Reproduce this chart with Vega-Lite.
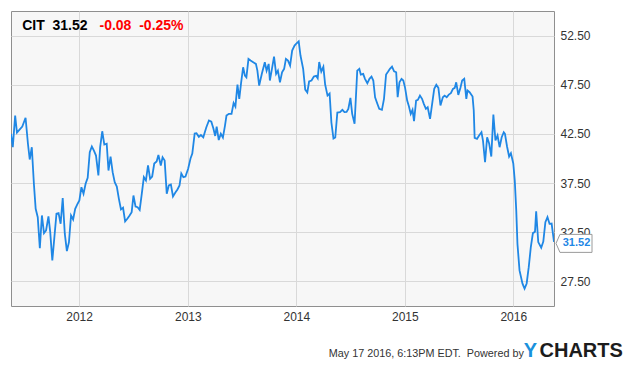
{
  "$schema": "https://vega.github.io/schema/vega-lite/v6.json",
  "width": 543,
  "height": 295,
  "autosize": {"type": "none"},
  "padding": {"left": 11, "top": 11, "right": 81, "bottom": 60},
  "background": "white",
  "config": {
    "view": {"fill": "#f7f7f7", "stroke": "#8f8f8f", "strokeWidth": 1},
    "font": "Liberation Sans",
    "axis": {"zindex": 0}
  },
  "data": {
    "values": [
      {"date": "2011-05-17", "price": 42.5},
      {"date": "2011-05-23", "price": 41.15},
      {"date": "2011-05-31", "price": 44.37},
      {"date": "2011-06-06", "price": 42.64},
      {"date": "2011-06-17", "price": 43.02},
      {"date": "2011-06-24", "price": 43.25},
      {"date": "2011-07-05", "price": 44.14},
      {"date": "2011-07-13", "price": 41.5},
      {"date": "2011-07-19", "price": 39.9},
      {"date": "2011-07-26", "price": 41.15},
      {"date": "2011-08-02", "price": 37.43},
      {"date": "2011-08-08", "price": 34.89},
      {"date": "2011-08-15", "price": 34.03},
      {"date": "2011-08-22", "price": 30.88},
      {"date": "2011-08-29", "price": 34.21},
      {"date": "2011-09-05", "price": 32.41},
      {"date": "2011-09-12", "price": 32.68},
      {"date": "2011-09-20", "price": 34.11},
      {"date": "2011-09-26", "price": 32.51},
      {"date": "2011-10-03", "price": 29.63},
      {"date": "2011-10-10", "price": 32.0},
      {"date": "2011-10-17", "price": 34.38},
      {"date": "2011-10-24", "price": 34.44},
      {"date": "2011-10-31", "price": 33.36},
      {"date": "2011-11-07", "price": 35.97},
      {"date": "2011-11-14", "price": 32.35},
      {"date": "2011-11-21", "price": 30.58},
      {"date": "2011-11-28", "price": 31.5},
      {"date": "2011-12-05", "price": 34.21},
      {"date": "2011-12-12", "price": 33.8},
      {"date": "2011-12-19", "price": 34.89},
      {"date": "2011-12-26", "price": 35.33},
      {"date": "2012-01-02", "price": 35.73},
      {"date": "2012-01-09", "price": 37.08},
      {"date": "2012-01-16", "price": 36.41},
      {"date": "2012-01-23", "price": 37.43},
      {"date": "2012-01-30", "price": 38.04},
      {"date": "2012-02-06", "price": 40.64},
      {"date": "2012-02-13", "price": 41.22},
      {"date": "2012-02-20", "price": 40.81},
      {"date": "2012-02-27", "price": 40.3},
      {"date": "2012-03-06", "price": 38.27},
      {"date": "2012-03-12", "price": 41.15},
      {"date": "2012-03-19", "price": 42.77},
      {"date": "2012-03-26", "price": 41.42},
      {"date": "2012-04-03", "price": 41.5},
      {"date": "2012-04-09", "price": 38.78},
      {"date": "2012-04-16", "price": 40.2},
      {"date": "2012-04-23", "price": 38.61},
      {"date": "2012-04-30", "price": 37.59},
      {"date": "2012-05-07", "price": 37.15},
      {"date": "2012-05-14", "price": 35.9},
      {"date": "2012-05-21", "price": 34.82},
      {"date": "2012-05-28", "price": 34.99},
      {"date": "2012-06-04", "price": 33.6},
      {"date": "2012-06-12", "price": 33.9},
      {"date": "2012-06-19", "price": 34.21},
      {"date": "2012-06-26", "price": 34.54},
      {"date": "2012-07-02", "price": 36.24},
      {"date": "2012-07-09", "price": 35.12},
      {"date": "2012-07-16", "price": 35.05},
      {"date": "2012-07-23", "price": 34.77},
      {"date": "2012-07-30", "price": 36.41},
      {"date": "2012-08-06", "price": 38.1},
      {"date": "2012-08-13", "price": 37.76},
      {"date": "2012-08-20", "price": 39.29},
      {"date": "2012-08-27", "price": 37.94},
      {"date": "2012-09-03", "price": 38.17},
      {"date": "2012-09-10", "price": 39.49},
      {"date": "2012-09-18", "price": 39.7},
      {"date": "2012-09-24", "price": 40.36},
      {"date": "2012-10-02", "price": 39.29},
      {"date": "2012-10-08", "price": 40.13},
      {"date": "2012-10-15", "price": 39.8},
      {"date": "2012-10-22", "price": 36.41},
      {"date": "2012-10-29", "price": 37.26},
      {"date": "2012-11-05", "price": 37.36},
      {"date": "2012-11-12", "price": 36.14},
      {"date": "2012-11-20", "price": 36.54},
      {"date": "2012-11-27", "price": 36.85},
      {"date": "2012-12-04", "price": 37.26},
      {"date": "2012-12-10", "price": 38.48},
      {"date": "2012-12-17", "price": 38.1},
      {"date": "2012-12-24", "price": 38.17},
      {"date": "2013-01-02", "price": 38.95},
      {"date": "2013-01-10", "price": 40.0},
      {"date": "2013-01-16", "price": 40.51},
      {"date": "2013-01-24", "price": 42.54},
      {"date": "2013-01-30", "price": 42.57},
      {"date": "2013-02-07", "price": 42.2},
      {"date": "2013-02-14", "price": 42.39},
      {"date": "2013-02-22", "price": 42.15},
      {"date": "2013-03-04", "price": 43.15},
      {"date": "2013-03-13", "price": 43.86},
      {"date": "2013-03-21", "price": 43.74},
      {"date": "2013-03-28", "price": 43.05},
      {"date": "2013-04-03", "price": 42.29},
      {"date": "2013-04-08", "price": 43.25},
      {"date": "2013-04-15", "price": 41.88},
      {"date": "2013-04-22", "price": 42.51},
      {"date": "2013-04-29", "price": 42.13},
      {"date": "2013-05-06", "price": 43.35},
      {"date": "2013-05-11", "price": 44.37},
      {"date": "2013-05-19", "price": 44.54},
      {"date": "2013-05-28", "price": 44.54},
      {"date": "2013-06-04", "price": 45.64},
      {"date": "2013-06-10", "price": 45.28},
      {"date": "2013-06-17", "price": 47.52},
      {"date": "2013-06-23", "price": 46.05},
      {"date": "2013-06-29", "price": 47.65},
      {"date": "2013-07-06", "price": 49.28},
      {"date": "2013-07-12", "price": 48.43},
      {"date": "2013-07-17", "price": 48.26},
      {"date": "2013-07-24", "price": 50.13},
      {"date": "2013-07-31", "price": 49.96},
      {"date": "2013-08-09", "price": 49.79},
      {"date": "2013-08-18", "price": 49.62},
      {"date": "2013-08-23", "price": 48.94},
      {"date": "2013-08-29", "price": 47.42},
      {"date": "2013-09-07", "price": 48.61},
      {"date": "2013-09-17", "price": 49.79},
      {"date": "2013-09-23", "price": 48.94},
      {"date": "2013-09-30", "price": 49.62},
      {"date": "2013-10-04", "price": 47.93},
      {"date": "2013-10-11", "price": 49.12},
      {"date": "2013-10-18", "price": 50.37},
      {"date": "2013-10-25", "price": 48.61},
      {"date": "2013-10-31", "price": 48.94},
      {"date": "2013-11-07", "price": 47.75},
      {"date": "2013-11-14", "price": 48.77},
      {"date": "2013-11-21", "price": 49.12},
      {"date": "2013-11-27", "price": 50.13},
      {"date": "2013-12-04", "price": 49.96},
      {"date": "2013-12-11", "price": 49.45},
      {"date": "2013-12-18", "price": 50.98},
      {"date": "2013-12-26", "price": 51.48},
      {"date": "2014-01-02", "price": 51.72},
      {"date": "2014-01-09", "price": 51.92},
      {"date": "2014-01-15", "price": 50.47},
      {"date": "2014-01-24", "price": 49.12},
      {"date": "2014-01-31", "price": 47.01},
      {"date": "2014-02-07", "price": 46.71},
      {"date": "2014-02-13", "price": 47.83},
      {"date": "2014-02-21", "price": 47.93},
      {"date": "2014-03-01", "price": 48.33},
      {"date": "2014-03-09", "price": 48.4},
      {"date": "2014-03-14", "price": 48.16},
      {"date": "2014-03-19", "price": 49.81},
      {"date": "2014-03-26", "price": 48.84},
      {"date": "2014-04-02", "price": 49.32},
      {"date": "2014-04-08", "price": 47.52},
      {"date": "2014-04-16", "price": 46.4},
      {"date": "2014-04-23", "price": 46.61},
      {"date": "2014-04-29", "price": 43.66},
      {"date": "2014-05-06", "price": 42.03},
      {"date": "2014-05-12", "price": 42.13},
      {"date": "2014-05-19", "price": 44.67},
      {"date": "2014-05-28", "price": 44.71},
      {"date": "2014-06-05", "price": 44.95},
      {"date": "2014-06-12", "price": 44.71},
      {"date": "2014-06-19", "price": 44.73},
      {"date": "2014-06-25", "price": 45.05},
      {"date": "2014-07-02", "price": 46.17},
      {"date": "2014-07-08", "price": 44.54},
      {"date": "2014-07-16", "price": 43.53},
      {"date": "2014-07-25", "price": 48.94},
      {"date": "2014-08-01", "price": 49.12},
      {"date": "2014-08-06", "price": 48.54},
      {"date": "2014-08-14", "price": 48.61},
      {"date": "2014-08-20", "price": 48.1},
      {"date": "2014-08-28", "price": 47.65},
      {"date": "2014-09-04", "price": 48.1},
      {"date": "2014-09-11", "price": 48.33},
      {"date": "2014-09-17", "price": 47.93},
      {"date": "2014-09-23", "price": 46.23},
      {"date": "2014-09-30", "price": 45.62},
      {"date": "2014-10-07", "price": 45.05},
      {"date": "2014-10-16", "price": 44.95},
      {"date": "2014-10-23", "price": 46.07},
      {"date": "2014-10-30", "price": 48.54},
      {"date": "2014-11-06", "price": 48.84},
      {"date": "2014-11-12", "price": 49.12},
      {"date": "2014-11-19", "price": 49.35},
      {"date": "2014-11-26", "price": 48.87},
      {"date": "2014-12-03", "price": 48.77},
      {"date": "2014-12-08", "price": 46.23},
      {"date": "2014-12-14", "price": 47.75},
      {"date": "2014-12-21", "price": 48.1},
      {"date": "2014-12-27", "price": 47.93},
      {"date": "2015-01-02", "price": 47.18},
      {"date": "2015-01-09", "price": 45.89},
      {"date": "2015-01-15", "price": 45.28},
      {"date": "2015-01-21", "price": 44.54},
      {"date": "2015-01-27", "price": 44.95},
      {"date": "2015-02-01", "price": 43.79},
      {"date": "2015-02-08", "price": 45.89},
      {"date": "2015-02-14", "price": 45.97},
      {"date": "2015-02-21", "price": 46.4},
      {"date": "2015-02-28", "price": 46.07},
      {"date": "2015-03-06", "price": 45.56},
      {"date": "2015-03-13", "price": 45.05},
      {"date": "2015-03-19", "price": 45.21},
      {"date": "2015-03-27", "price": 44.03},
      {"date": "2015-04-03", "price": 45.56},
      {"date": "2015-04-10", "price": 47.08},
      {"date": "2015-04-17", "price": 47.49},
      {"date": "2015-04-24", "price": 47.18},
      {"date": "2015-05-01", "price": 45.39},
      {"date": "2015-05-09", "price": 46.23},
      {"date": "2015-05-15", "price": 46.4},
      {"date": "2015-05-22", "price": 46.23},
      {"date": "2015-05-29", "price": 46.5},
      {"date": "2015-06-05", "price": 46.64},
      {"date": "2015-06-12", "price": 47.08},
      {"date": "2015-06-18", "price": 47.18},
      {"date": "2015-06-23", "price": 47.75},
      {"date": "2015-06-30", "price": 46.47},
      {"date": "2015-07-07", "price": 47.18},
      {"date": "2015-07-13", "price": 47.93},
      {"date": "2015-07-20", "price": 48.1},
      {"date": "2015-07-27", "price": 46.07},
      {"date": "2015-07-31", "price": 46.91},
      {"date": "2015-08-07", "price": 46.74},
      {"date": "2015-08-17", "price": 46.3},
      {"date": "2015-08-21", "price": 44.88},
      {"date": "2015-08-24", "price": 42.1},
      {"date": "2015-09-01", "price": 42.0},
      {"date": "2015-09-08", "price": 42.34},
      {"date": "2015-09-16", "price": 42.67},
      {"date": "2015-09-21", "price": 41.83},
      {"date": "2015-09-28", "price": 39.62},
      {"date": "2015-10-05", "price": 42.16},
      {"date": "2015-10-12", "price": 41.5},
      {"date": "2015-10-19", "price": 40.2},
      {"date": "2015-10-26", "price": 44.47},
      {"date": "2015-11-02", "price": 41.83},
      {"date": "2015-11-09", "price": 42.34},
      {"date": "2015-11-16", "price": 41.15},
      {"date": "2015-11-23", "price": 42.16},
      {"date": "2015-11-30", "price": 42.67},
      {"date": "2015-12-04", "price": 42.51},
      {"date": "2015-12-11", "price": 41.22},
      {"date": "2015-12-18", "price": 40.2},
      {"date": "2015-12-24", "price": 40.54},
      {"date": "2016-01-01", "price": 39.49},
      {"date": "2016-01-06", "price": 37.76},
      {"date": "2016-01-11", "price": 34.72},
      {"date": "2016-01-15", "price": 31.33},
      {"date": "2016-01-22", "price": 28.62},
      {"date": "2016-02-01", "price": 27.27},
      {"date": "2016-02-08", "price": 26.76},
      {"date": "2016-02-15", "price": 27.29},
      {"date": "2016-02-22", "price": 28.95},
      {"date": "2016-02-29", "price": 30.99},
      {"date": "2016-03-07", "price": 32.41},
      {"date": "2016-03-14", "price": 32.55},
      {"date": "2016-03-18", "price": 34.64},
      {"date": "2016-03-25", "price": 31.5},
      {"date": "2016-04-04", "price": 30.92},
      {"date": "2016-04-11", "price": 31.55},
      {"date": "2016-04-18", "price": 33.53},
      {"date": "2016-04-25", "price": 34.03},
      {"date": "2016-05-02", "price": 33.36},
      {"date": "2016-05-09", "price": 33.38},
      {"date": "2016-05-17", "price": 31.52}
    ]
  },
  "layer": [
    {
      "mark": {"type": "line", "color": "#1f87e5", "strokeWidth": 1.8, "clip": true},
      "encoding": {
        "x": {
          "field": "date",
          "type": "temporal",
          "scale": {
            "type": "utc",
            "domain": [
              {"year": 2011, "month": 5, "date": 17, "utc": true},
              {"year": 2016, "month": 5, "date": 17, "utc": true}
            ]
          },
          "axis": {
            "orient": "bottom",
            "offset": 0,
            "values": [
              {"year": 2012, "month": 1, "date": 1, "utc": true},
              {"year": 2013, "month": 1, "date": 1, "utc": true},
              {"year": 2014, "month": 1, "date": 1, "utc": true},
              {"year": 2015, "month": 1, "date": 1, "utc": true},
              {"year": 2016, "month": 1, "date": 1, "utc": true}
            ],
            "format": "%Y",
            "ticks": false,
            "domain": false,
            "grid": true,
            "gridColor": "#d9d9d9",
            "gridOpacity": 1,
            "labelFont": "Liberation Sans",
            "labelFontSize": 12,
            "labelColor": "#333333",
            "labelBaseline": "alphabetic",
            "labelPadding": 14.7,
            "labelFlush": false,
            "title": "May 17 2016, 6:13PM EDT.\u00a0 Powered by",
            "titleX": 317.3,
            "titleY": 50.7,
            "titleAngle": 0,
            "titleAlign": "left",
            "titleBaseline": "alphabetic",
            "titleFont": "Liberation Sans",
            "titleFontSize": 10.8,
            "titleFontWeight": "normal",
            "titleColor": "#333333"
          }
        },
        "y": {
          "field": "price",
          "type": "quantitative",
          "scale": {"domain": [25, 55], "zero": false, "nice": false},
          "axis": {
            "orient": "right",
            "offset": 0,
            "values": [27.5, 32.5, 37.5, 42.5, 47.5, 52.5],
            "format": ".2f",
            "ticks": false,
            "domain": false,
            "grid": true,
            "gridColor": "#d9d9d9",
            "gridOpacity": 1,
            "labelFont": "Liberation Sans",
            "labelFontSize": 12,
            "labelColor": "#333333",
            "labelPadding": 6,
            "labelBaseline": "middle",
            "title": "-0.08\u00a0\u00a0-0.25%",
            "titleX": -455,
            "titleY": 18.3,
            "titleAngle": 0,
            "titleAlign": "left",
            "titleBaseline": "alphabetic",
            "titleFont": "Liberation Sans",
            "titleFontSize": 14,
            "titleFontWeight": "bold",
            "titleColor": "#ff0000"
          }
        }
      }
    },
    {
      "transform": [{"filter": {"field": "date", "equal": {"year": 2016, "month": 5, "date": 17, "utc": true}}}],
      "mark": {
        "type": "point",
        "shape": "M -1 0 L -0.78 -0.5 L 1 -0.5 L 1 0.5 L -0.78 0.5 Z",
        "size": 1296,
        "filled": true,
        "fill": "#ffffff",
        "stroke": "#9a9a9a",
        "strokeWidth": 1,
        "opacity": 1,
        "xOffset": 20,
        "yOffset": 1.5
      },
      "encoding": {
        "x": {
          "field": "date",
          "type": "temporal",
          "axis": {
            "orient": "top",
            "offset": 0,
            "labels": false,
            "ticks": false,
            "domain": false,
            "grid": false,
            "title": "CHARTS",
            "titleX": 528,
            "titleY": 345.7,
            "titleAngle": 0,
            "titleAlign": "left",
            "titleBaseline": "alphabetic",
            "titleFont": "Liberation Sans",
            "titleFontSize": 20,
            "titleFontWeight": "bold",
            "titleColor": "#1c1c1c"
          }
        },
        "y": {
          "field": "price",
          "type": "quantitative",
          "axis": {
            "orient": "left",
            "offset": 0,
            "labels": false,
            "ticks": false,
            "domain": false,
            "grid": false,
            "title": "Y",
            "titleX": 512.3,
            "titleY": 345.7,
            "titleAngle": 0,
            "titleAlign": "left",
            "titleBaseline": "alphabetic",
            "titleFont": "Liberation Sans",
            "titleFontSize": 20,
            "titleFontWeight": "bold",
            "titleColor": "#1a91dc"
          }
        }
      }
    },
    {
      "transform": [{"filter": {"field": "date", "equal": {"year": 2016, "month": 5, "date": 17, "utc": true}}}],
      "mark": {
        "type": "text",
        "font": "Liberation Sans",
        "fontSize": 11,
        "fontWeight": "bold",
        "color": "#1f87e5",
        "align": "center",
        "baseline": "middle",
        "xOffset": 22.5,
        "yOffset": 1.5
      },
      "encoding": {
        "x": {
          "field": "date",
          "type": "temporal",
          "axis": {
            "orient": "top",
            "offset": 0,
            "labels": false,
            "ticks": false,
            "domain": false,
            "grid": false,
            "title": "CIT\u00a0\u00a031.52",
            "titleX": 10.7,
            "titleY": 18.3,
            "titleAngle": 0,
            "titleAlign": "left",
            "titleBaseline": "alphabetic",
            "titleFont": "Liberation Sans",
            "titleFontSize": 14,
            "titleFontWeight": "bold",
            "titleColor": "#000000"
          }
        },
        "y": {"field": "price", "type": "quantitative", "axis": null},
        "text": {"field": "price", "type": "quantitative", "format": ".2f"}
      }
    }
  ],
  "resolve": {"axis": {"x": "independent", "y": "independent"}}
}
